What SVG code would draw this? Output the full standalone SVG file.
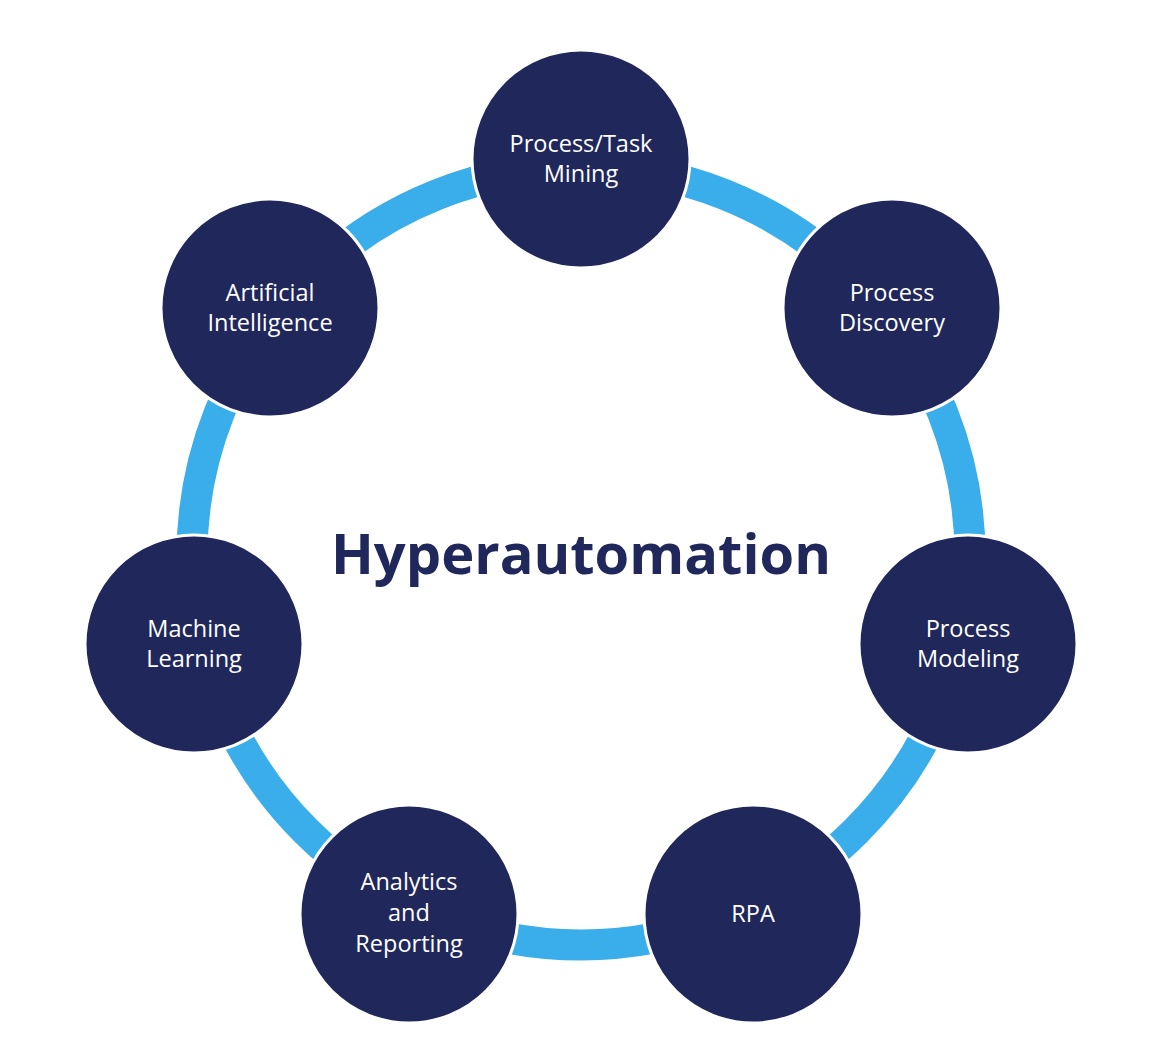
<svg xmlns="http://www.w3.org/2000/svg" width="1157" height="1047" viewBox="0 0 1157 1047">
<style>
.node circle{fill:#20275B;stroke:#FFFFFF;stroke-width:3}
.node text{fill:#FFFFFF;font-family:"Open Sans","Noto Sans",sans-serif;font-size:23.5px;text-anchor:middle}
.title{fill:#20275B;font-family:"Open Sans","Noto Sans",sans-serif;font-size:56px;font-weight:bold;text-anchor:middle}
</style>
<rect width="1157" height="1047" fill="#FFFFFF"/>
<g id="connectors">
<circle cx="581" cy="556" r="389" fill="none" stroke="#3AAEEB" stroke-width="31"/>
</g>
<g id="node-mining" class="node">
<circle cx="581" cy="159" r="109"/>
<text x="581" y="152">Process/Task</text>
<text x="581" y="182">Mining</text>
</g>
<g id="node-discovery" class="node">
<circle cx="892" cy="308" r="109"/>
<text x="892" y="301">Process</text>
<text x="892" y="331">Discovery</text>
</g>
<g id="node-modeling" class="node">
<circle cx="968" cy="644" r="109"/>
<text x="968" y="637">Process</text>
<text x="968" y="667">Modeling</text>
</g>
<g id="node-rpa" class="node">
<circle cx="753" cy="914" r="109"/>
<text x="753" y="922">RPA</text>
</g>
<g id="node-analytics" class="node">
<circle cx="409" cy="914" r="109"/>
<text x="409" y="890">Analytics</text>
<text x="409" y="921">and</text>
<text x="409" y="952">Reporting</text>
</g>
<g id="node-ml" class="node">
<circle cx="194" cy="644" r="109"/>
<text x="194" y="637">Machine</text>
<text x="194" y="667">Learning</text>
</g>
<g id="node-ai" class="node">
<circle cx="270" cy="308" r="109"/>
<text x="270" y="301">Artificial</text>
<text x="270" y="331">Intelligence</text>
</g>
<text class="title" x="581" y="574">Hyperautomation</text>
</svg>
